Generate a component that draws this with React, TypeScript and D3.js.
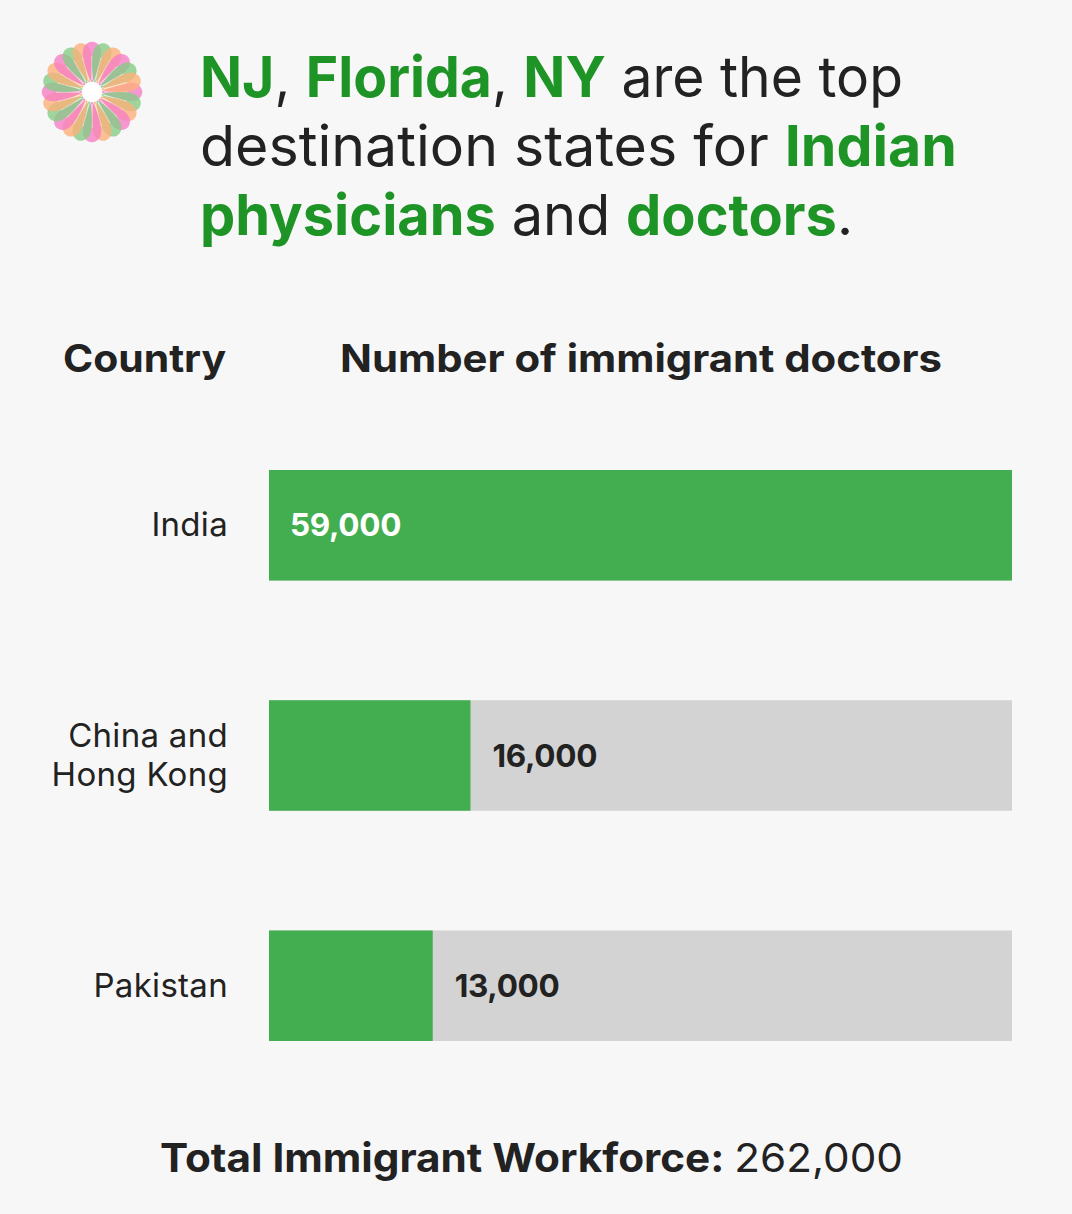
import React from "react";
import * as d3 from "d3";

const countries = ["India", "China and Hong Kong", "Pakistan"];
const countryLines = [["India"], ["China and", "Hong Kong"], ["Pakistan"]];
const doctors = [59000, 16000, 13000];
const totalWorkforce = 262000;
const titleLines = [
  [["NJ", true], [", ", false], ["Florida", true], [", ", false], ["NY", true], [" are the top", false]],
  [["destination states for ", false], ["Indian", true]],
  [["physicians", true], [" and ", false], ["doctors", true], [".", false]],
];
const titleWidths = [703, 757, 653];
const petalColors = ["#f57fc4", "#86cc86", "#fdb07a"];

const W = 1072, H = 1214;
const GREEN = "#43ae4f", GREY = "#d3d3d3", DARK = "#222222", TGREEN = "#1f9426";
const FONT = "Inter, 'Open Sans', sans-serif";

export default function App() {
  const x = d3.scaleLinear().domain([0, d3.max(doctors) as number]).range([269, 1012]);
  const y = d3.scaleBand<string>().domain(countries).range([470, 1041]).paddingInner(0.52).paddingOuter(0);
  const fmt = d3.format(",");
  const nPetals = 24;
  const petals = d3.range(nPetals).map((i) => ({ a: (i * 360) / nPetals, c: petalColors[i % 3] }));

  return (
    <div style={{ position: "absolute", left: 0, top: 0 }}>
      <svg width={W} height={H} style={{ display: "block", fontFamily: FONT }}>
        <rect width={W} height={H} fill="#f7f7f7" />
        <g transform="translate(92,92)">
          {petals.map((p, i) => (
            <g key={i} transform={`rotate(${p.a})`}>
              <path d="M 9 0 C 18 -5, 36 -12, 45 -8 C 52 -4, 52 4, 45 8 C 36 12, 18 5, 9 0 Z" fill={p.c} opacity={0.8} />
              <line x1={12} y1={0} x2={36} y2={0} stroke="#ffffff" strokeWidth={1.2} opacity={0.6} />
            </g>
          ))}
          <circle r={10} fill="#ffffff" />
        </g>
        {titleLines.map((line, li) => (
          <text key={li} x={200} y={97 + li * 69} fontSize={56} fill={DARK} textLength={titleWidths[li]} lengthAdjust="spacingAndGlyphs">
            {line.map(([t, g], k) => (
              <tspan key={k} fill={g ? TGREEN : DARK} fontWeight={g ? 700 : 400}>{t as string}</tspan>
            ))}
          </text>
        ))}
        <text x={63} y={372} fontSize={38} fontWeight={700} fill={DARK} textLength={163} lengthAdjust="spacingAndGlyphs">Country</text>
        <text x={340} y={372} fontSize={38} fontWeight={700} fill={DARK} textLength={602} lengthAdjust="spacingAndGlyphs">Number of immigrant doctors</text>
        {countries.map((c, i) => {
          const y0 = y(c) as number;
          const bw = y.bandwidth();
          const lines = countryLines[i];
          const full = doctors[i] === d3.max(doctors);
          return (
            <g key={c}>
              <rect x={x(0)} y={y0} width={x.range()[1] - x(0)} height={bw} fill={GREY} />
              <rect x={x(0)} y={y0} width={x(doctors[i]) - x(0)} height={bw} fill={GREEN} />
              {lines.map((l, k) => (
                <text key={k} x={228} y={y0 + bw / 2 + 11 + (k - (lines.length - 1) / 2) * 39} textAnchor="end" fontSize={33} letterSpacing={0.3} fill={DARK}>{l}</text>
              ))}
              <text x={full ? x(0) + 21 : x(doctors[i]) + 22} y={y0 + bw / 2 + 11} fontSize={31.5} fontWeight={700} fill={full ? "#ffffff" : DARK} letterSpacing={-0.3}>{fmt(doctors[i])}</text>
            </g>
          );
        })}
        <text x={160} y={1172} fontSize={40} fill={DARK} textLength={743} lengthAdjust="spacingAndGlyphs">
          <tspan fontWeight={700}>Total Immigrant Workforce: </tspan>
          <tspan fontWeight={400}>{fmt(totalWorkforce)}</tspan>
        </text>
      </svg>
    </div>
  );
}
